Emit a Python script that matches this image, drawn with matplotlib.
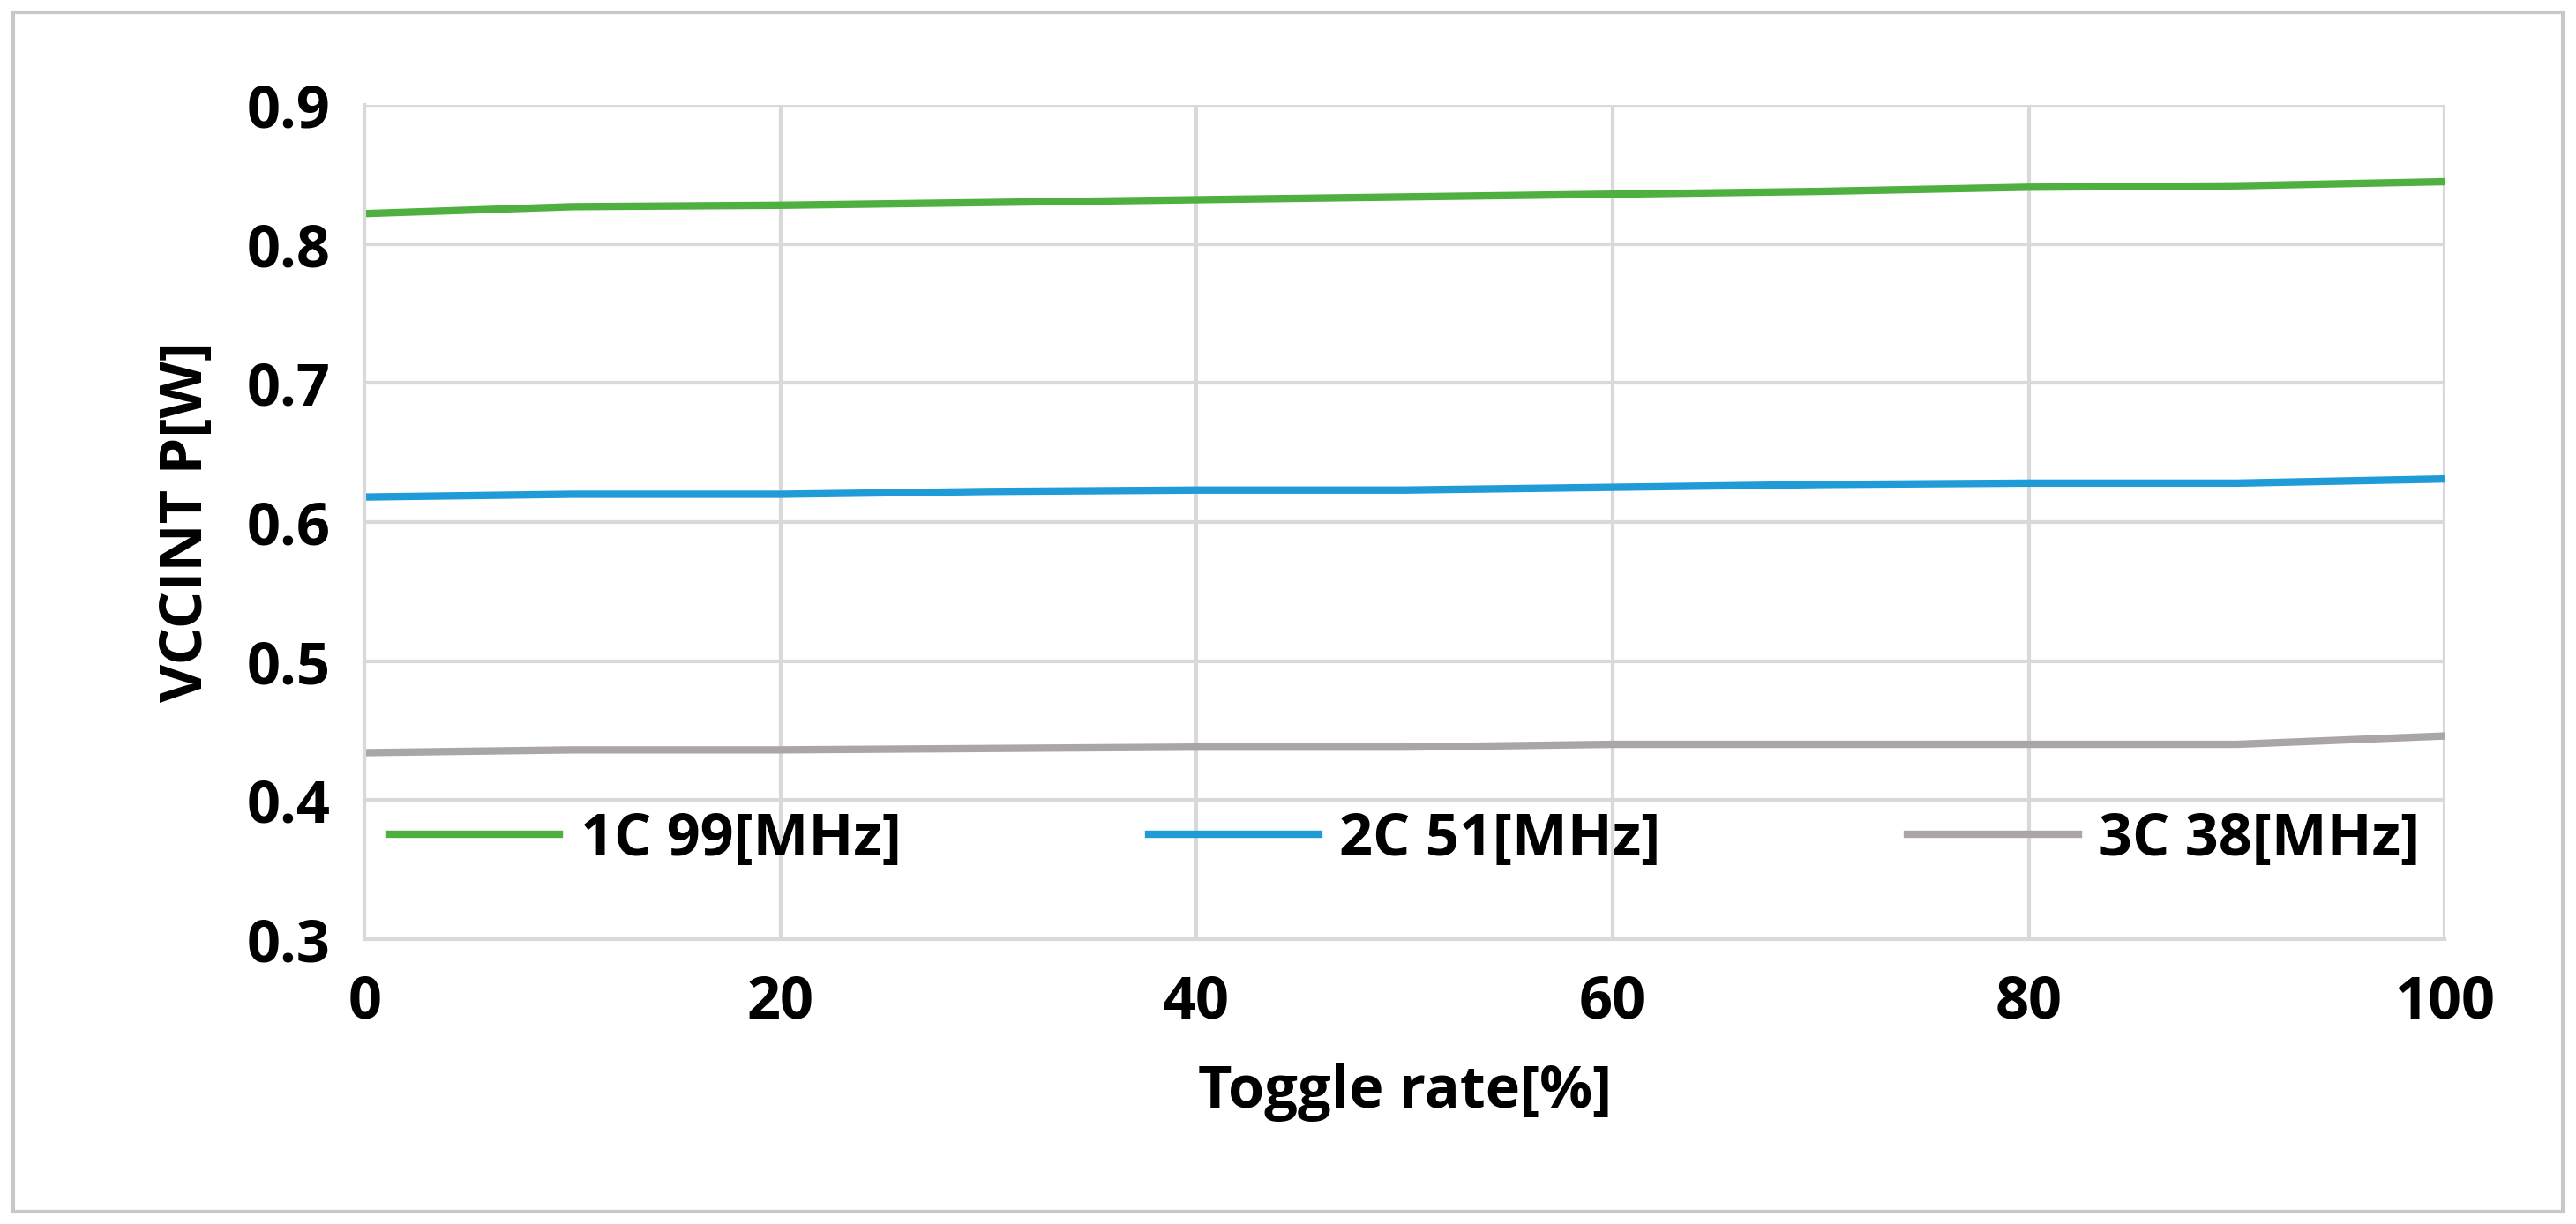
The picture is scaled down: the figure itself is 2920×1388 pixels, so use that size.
import matplotlib
matplotlib.use("Agg")
import matplotlib.pyplot as plt
from matplotlib.patches import Rectangle

toggle = [0, 10, 20, 30, 40, 50, 60, 70, 80, 90, 100]
p_1c = [0.822, 0.827, 0.828, 0.830, 0.832, 0.834, 0.836, 0.838, 0.841, 0.842, 0.845]
p_2c = [0.618, 0.620, 0.620, 0.622, 0.623, 0.623, 0.625, 0.627, 0.628, 0.628, 0.631]
p_3c = [0.434, 0.436, 0.436, 0.437, 0.438, 0.438, 0.440, 0.440, 0.440, 0.440, 0.446]
labels = ["1C 99[MHz]", "2C 51[MHz]", "3C 38[MHz]"]
colors = ["#4DB03F", "#1F9BD7", "#ABA6A6"]

plt.rcParams["font.family"] = ["Open Sans", "DejaVu Sans"]
plt.rcParams["font.weight"] = "bold"

fig = plt.figure(figsize=(29.2, 13.88), dpi=100)
ax = fig.add_axes([0.1415, 0.233, 0.8075, 0.681])
fig.patches.append(Rectangle((0.005, 0.01), 0.99, 0.98, transform=fig.transFigure,
                             fill=False, edgecolor="#C8C8C8", linewidth=3))

for y, lab, c in zip([p_1c, p_2c, p_3c], labels, colors):
    ax.plot(toggle, y, color=c, linewidth=6, label=lab)

ax.set_xlim(0, 100)
ax.set_ylim(0.3, 0.9)
ax.set_xticks(range(0, 101, 20))
ax.set_yticks([0.3, 0.4, 0.5, 0.6, 0.7, 0.8, 0.9])
ax.set_yticklabels(["0.3", "0.4", "0.5", "0.6", "0.7", "0.8", "0.9"])
ax.grid(True, color="#D9D9D9", linewidth=3)
for s in ["top", "right"]:
    ax.spines[s].set_visible(False)
for s in ["left", "bottom"]:
    ax.spines[s].set_color("#D9D9D9")
    ax.spines[s].set_linewidth(3)
ax.tick_params(length=0, labelsize=48, pad=28)
ax.set_xlabel("Toggle rate[%]", fontsize=48, fontweight="bold", labelpad=25)
ax.set_ylabel("VCCINT P[W]", fontsize=48, fontweight="bold", labelpad=25)
ax.legend(loc="lower center", bbox_to_anchor=(0.5, 0.02), ncol=3, frameon=False,
          fontsize=48, handlelength=2.9, handletextpad=0.35, columnspacing=4.2)

fig.savefig("out.png", dpi=100)
